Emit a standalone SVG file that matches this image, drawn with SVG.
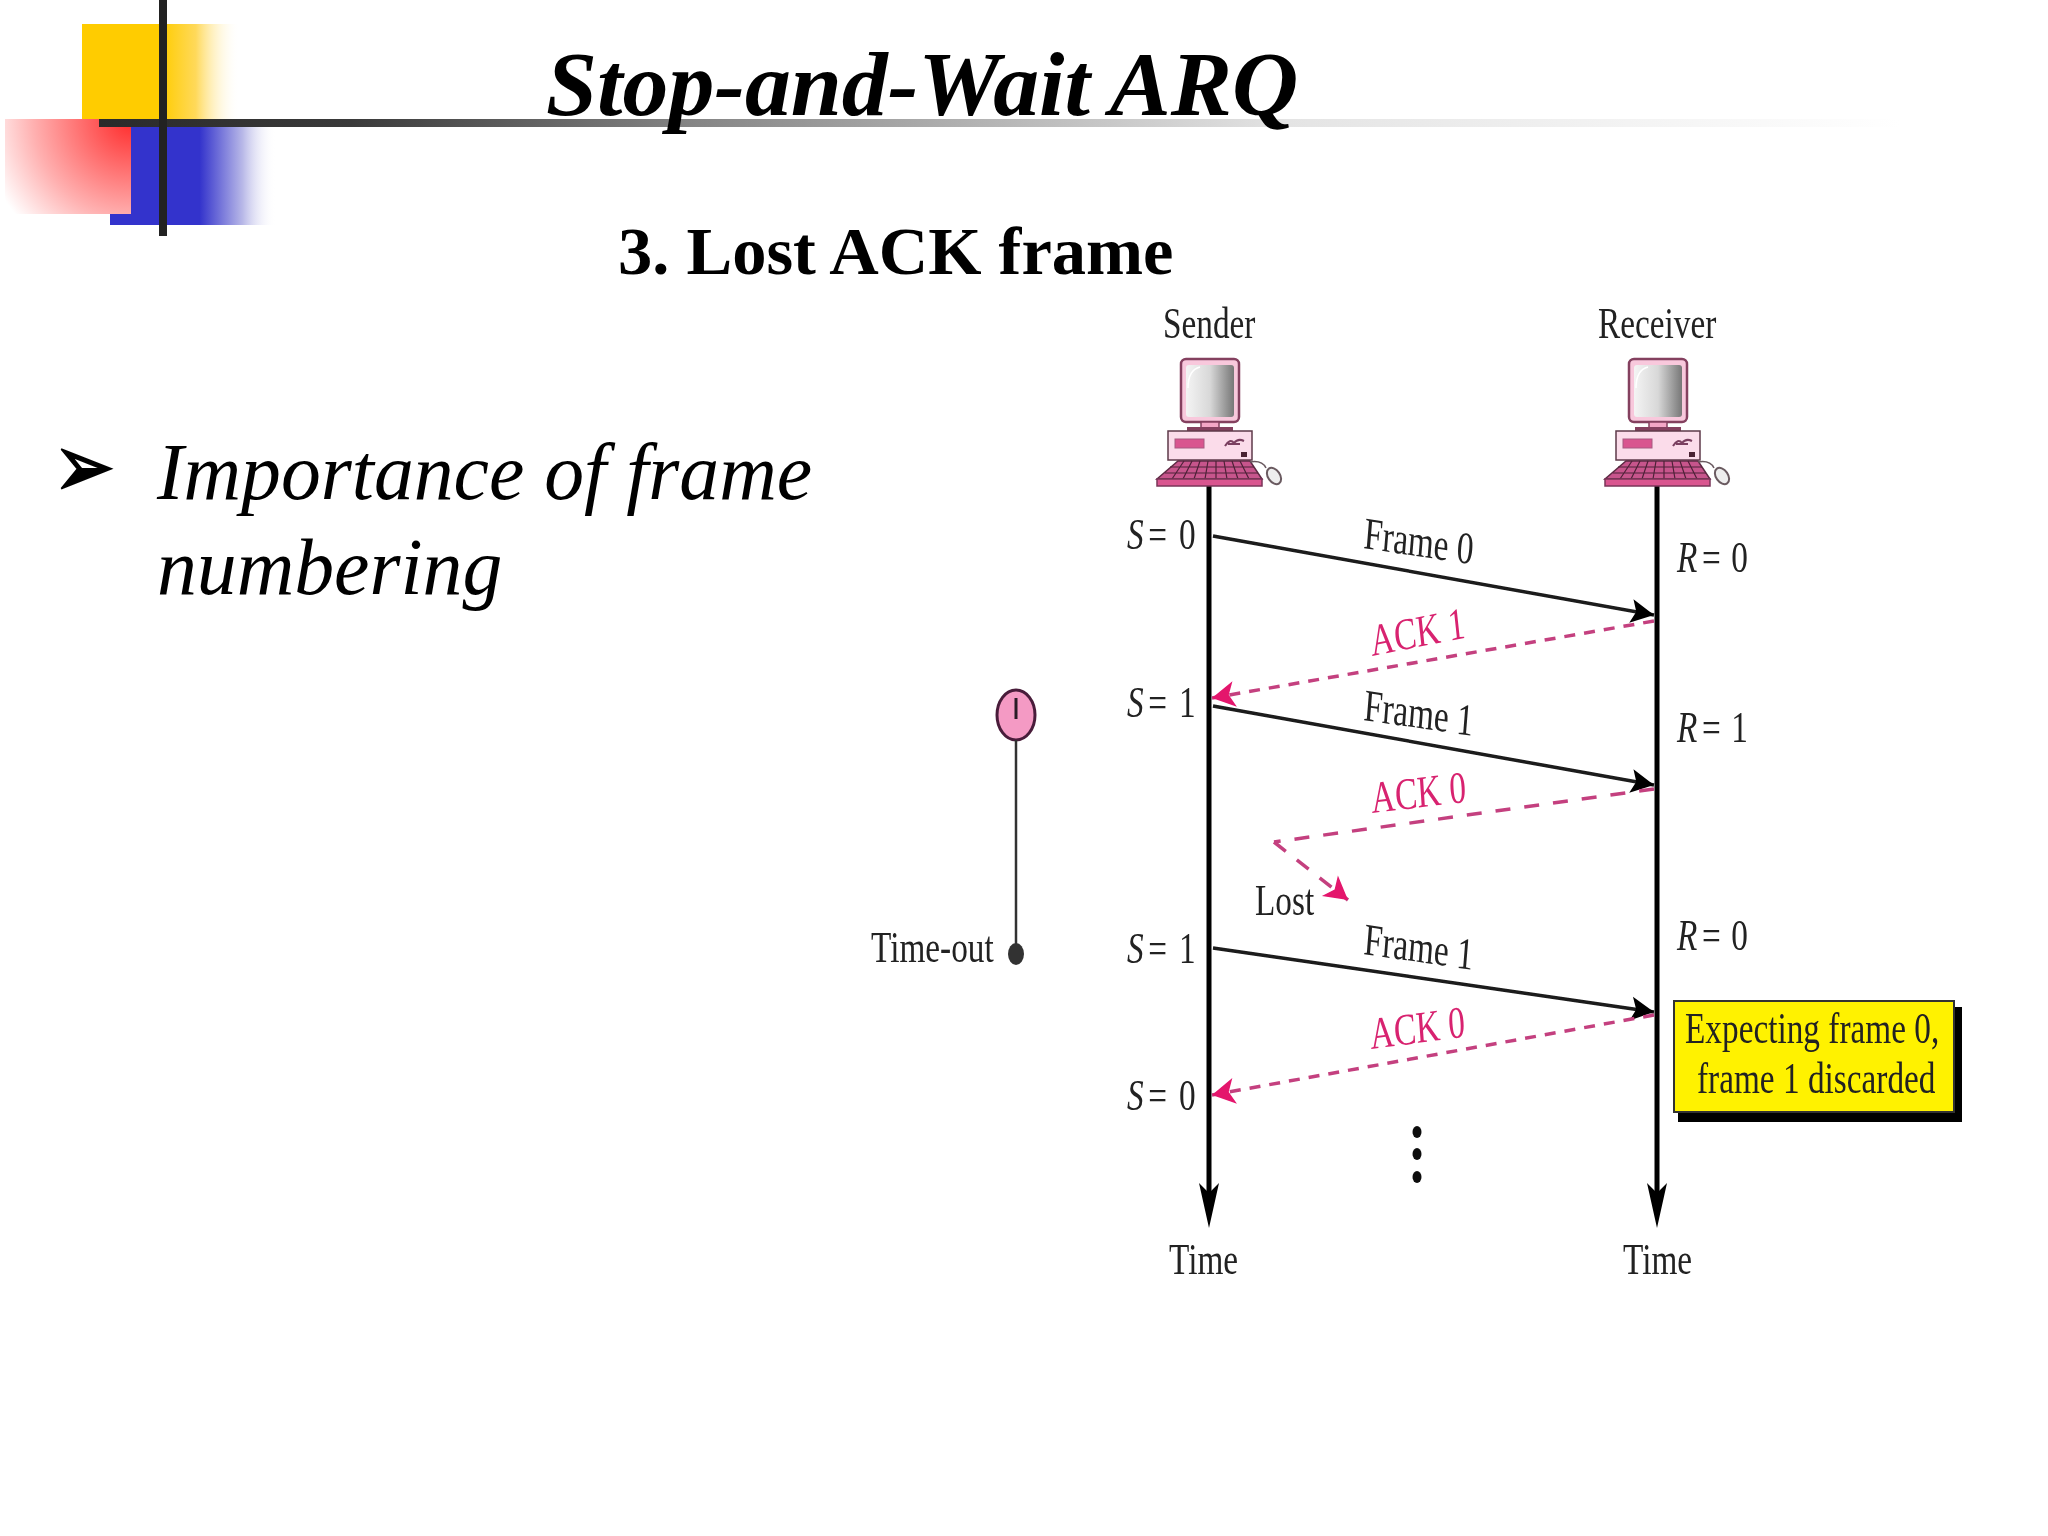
<svg xmlns="http://www.w3.org/2000/svg" xmlns:xlink="http://www.w3.org/1999/xlink" width="2048" height="1536" viewBox="0 0 2048 1536">
<style>
text{font-family:"Liberation Serif","Times New Roman",serif}
.t{font-size:45px;fill:#222}
.a{font-size:45px;fill:#d8246f}
.v{font-style:italic}
.life{stroke:#000;stroke-width:5;fill:none}
.fr{stroke:#1a1a1a;stroke-width:3.5;fill:none;marker-end:url(#ab)}
.ack{stroke:#c4417f;stroke-width:3.5;fill:none;stroke-dasharray:11 9;marker-end:url(#ap)}
.lost{stroke:#c4417f;stroke-width:3.5;fill:none;stroke-dasharray:15 14}
</style>
<defs>
<filter id="soft" x="0" y="0" width="1" height="1" filterUnits="objectBoundingBox"><feGaussianBlur stdDeviation="0.7"/></filter>
<linearGradient id="gy" gradientUnits="userSpaceOnUse" x1="82" x2="240" y1="0" y2="0"><stop offset="0" stop-color="#ffcc00"/><stop offset=".5" stop-color="#ffcc00"/><stop offset=".72" stop-color="#ffd95a"/><stop offset="1" stop-color="#fff" stop-opacity="0"/></linearGradient>
<linearGradient id="gb" gradientUnits="userSpaceOnUse" x1="110" x2="276" y1="0" y2="0"><stop offset="0" stop-color="#3333cc"/><stop offset=".54" stop-color="#3333cc"/><stop offset=".8" stop-color="#b9b9e8"/><stop offset="1" stop-color="#fff" stop-opacity="0"/></linearGradient>
<radialGradient id="gr" gradientUnits="userSpaceOnUse" cx="131" cy="119" r="150"><stop offset="0" stop-color="#ff2a2a"/><stop offset=".65" stop-color="#ffb0b0"/><stop offset="1" stop-color="#fff"/></radialGradient>
<linearGradient id="gl" gradientUnits="userSpaceOnUse" x1="99" x2="1900" y1="0" y2="0"><stop offset="0" stop-color="#2a2a2a"/><stop offset=".14" stop-color="#3a3a3a"/><stop offset=".33" stop-color="#858585"/><stop offset=".66" stop-color="#e4e4e4"/><stop offset="1" stop-color="#fff"/></linearGradient>
<linearGradient id="gs" x1="0" x2="1" y1="0" y2="0"><stop offset="0" stop-color="#f4f4f4"/><stop offset=".5" stop-color="#d8d8d8"/><stop offset="1" stop-color="#777"/></linearGradient>
<marker id="ab" markerUnits="userSpaceOnUse" markerWidth="30" markerHeight="26" viewBox="0 0 30 26" refX="28" refY="13" orient="auto"><path d="M5 1 L28 13 L5 25 L10 13 Z" fill="#000"/></marker>
<marker id="ap" markerUnits="userSpaceOnUse" markerWidth="30" markerHeight="28" viewBox="0 0 30 28" refX="28" refY="14" orient="auto"><path d="M5 1 L28 14 L5 27 L11 14 Z" fill="#e4136c"/></marker>
<g id="pc">
<rect x="1181" y="359" width="58" height="63" rx="5" fill="#f8c8dc" stroke="#84405f" stroke-width="2.5"/>
<rect x="1186" y="365" width="48" height="52" rx="3" fill="url(#gs)"/>
<path d="M1188 388 Q1188 370 1200 367" fill="none" stroke="#fff" stroke-width="1.5"/>
<rect x="1201" y="422" width="18" height="8" fill="#f3a6c6" stroke="#84405f" stroke-width="1.5"/>
<rect x="1187" y="427" width="46" height="5" fill="#84405f"/>
<rect x="1168" y="431" width="84" height="29" fill="#fbdcea" stroke="#5e3a4a" stroke-width="1.5"/>
<rect x="1175" y="439" width="29" height="9" fill="#d9558f" stroke="#a85a80"/>
<path d="M1225 446 Q1230 438 1234 443 Q1238 438 1244 441 M1228 444 L1240 444" stroke="#7a4060" stroke-width="2" fill="none"/>
<rect x="1241" y="452" width="6" height="5" fill="#4a2030"/>
<path d="M1178 461 L1250 461 L1262 479 L1157 479 Z" fill="#c7558c" stroke="#5e2a44" stroke-width="1.5"/>
<path d="M1170 467 L1254 467 M1165 473 L1258 473 M1184 461 L1172 479 M1192 461 L1183 479 M1200 461 L1194 479 M1208 461 L1205 479 M1216 461 L1216 479 M1224 461 L1227 479 M1232 461 L1238 479 M1240 461 L1249 479" stroke="#4f2238" stroke-width="1.2" fill="none"/>
<rect x="1157" y="479" width="105" height="7" fill="#d9558f" stroke="#7a3558" stroke-width="1.5"/>
<path d="M1250 462 Q1262 460 1266 468" fill="none" stroke="#6a5a60" stroke-width="1.5"/>
<ellipse cx="1274" cy="476" rx="6" ry="9" transform="rotate(-35 1274 476)" fill="#eee" stroke="#6a5a60" stroke-width="2"/>
</g>
</defs>
<g id="decoration">
<rect x="82" y="24" width="158" height="95" fill="url(#gy)"/>
<rect x="110" y="119" width="166" height="106" fill="url(#gb)"/>
<rect x="5" y="119" width="126" height="95" fill="url(#gr)"/>
<rect x="99" y="119" width="1801" height="8" fill="url(#gl)"/>
<rect x="159" y="0" width="8" height="236" fill="#222"/>
</g>
<g id="title"><text x="546" y="115" font-size="91.8" font-weight="bold" font-style="italic" fill="#000">Stop-and-Wait ARQ</text></g>
<g id="subtitle"><text x="618" y="274" font-size="68.5" font-weight="bold" fill="#000">3. Lost ACK frame</text></g>
<g id="bullet">
<text transform="translate(53,497) scale(1.19,1.45)" font-size="62" stroke="#000" stroke-width="1.2" style="font-family:'DejaVu Sans',sans-serif" fill="#000">➢</text>
<text x="157" y="499" font-size="79.7" font-style="italic" fill="#000">Importance of frame</text>
<text x="157" y="594" font-size="79.7" font-style="italic" fill="#000">numbering</text>
</g>
<g id="figure" filter="url(#soft)">
<g id="connectors">
<path class="life" d="M1209 485 V1200"/>
<path class="life" d="M1657 485 V1200"/>
<path d="M1199 1183 L1209 1228 L1219 1183 L1209 1193 Z" fill="#000"/>
<path d="M1647 1183 L1657 1228 L1667 1183 L1657 1193 Z" fill="#000"/>
<path class="fr" d="M1213 536 L1654 615"/>
<path class="ack" d="M1654 621 L1212 698"/>
<path class="fr" d="M1213 706 L1654 785"/>
<path class="lost" d="M1654 789 L1274 842"/>
<path class="lost" style="marker-end:url(#ap)" d="M1274 842 L1348 900"/>
<path class="fr" d="M1213 948 L1654 1012"/>
<path class="ack" d="M1654 1015 L1212 1095"/>
</g>
<g id="sender"><use href="#pc" xlink:href="#pc"/><text class="t" transform="translate(1163,338) scale(.74,1)">Sender</text><text class="t" transform="translate(1169,1274) scale(.74,1)">Time</text></g>
<g id="receiver"><use href="#pc" xlink:href="#pc" x="448"/><text class="t" transform="translate(1598,338) scale(.74,1)">Receiver</text><text class="t" transform="translate(1623,1274) scale(.74,1)">Time</text></g>
<g id="sender-states">
<text class="t" transform="translate(1127,549) scale(.74,1)"><tspan class="v">S</tspan><tspan dx="-5"> =</tspan><tspan dx="5"> 0</tspan></text>
<text class="t" transform="translate(1127,717) scale(.74,1)"><tspan class="v">S</tspan><tspan dx="-5"> =</tspan><tspan dx="5"> 1</tspan></text>
<text class="t" transform="translate(1127,963) scale(.74,1)"><tspan class="v">S</tspan><tspan dx="-5"> =</tspan><tspan dx="5"> 1</tspan></text>
<text class="t" transform="translate(1127,1110) scale(.74,1)"><tspan class="v">S</tspan><tspan dx="-5"> =</tspan><tspan dx="5"> 0</tspan></text>
</g>
<g id="receiver-states">
<text class="t" transform="translate(1677,572) scale(.74,1)"><tspan class="v">R</tspan><tspan dx="-5"> =</tspan><tspan dx="3"> 0</tspan></text>
<text class="t" transform="translate(1677,742) scale(.74,1)"><tspan class="v">R</tspan><tspan dx="-5"> =</tspan><tspan dx="3"> 1</tspan></text>
<text class="t" transform="translate(1677,950) scale(.74,1)"><tspan class="v">R</tspan><tspan dx="-5"> =</tspan><tspan dx="3"> 0</tspan></text>
</g>
<g id="labels">
<text class="t" transform="translate(1363,548) scale(.74,1) rotate(6.3)">Frame 0</text>
<text class="a" transform="translate(1372,656) scale(.74,1) rotate(-8.3)">ACK 1</text>
<text class="t" transform="translate(1363,720) scale(.74,1) rotate(6.1)">Frame 1</text>
<text class="a" transform="translate(1372,813) scale(.74,1) rotate(-5)">ACK 0</text>
<text class="t" transform="translate(1255,915) scale(.74,1)">Lost</text>
<text class="t" transform="translate(1363,954) scale(.74,1) rotate(6.1)">Frame 1</text>
<text class="a" transform="translate(1371,1049) scale(.74,1) rotate(-5.5)">ACK 0</text>
</g>
<g id="timer">
<ellipse cx="1016" cy="715" rx="19" ry="25" fill="#f49ac4" stroke="#4a1f3a" stroke-width="3"/>
<path d="M1016 698 V719" stroke="#2a1a25" stroke-width="3"/>
<path d="M1016 740 V945" stroke="#333" stroke-width="2.5"/>
<ellipse cx="1016" cy="954" rx="8" ry="11" fill="#333"/>
<text class="t" transform="translate(871,962) scale(.74,1)">Time-out</text>
</g>
<g id="note">
<rect x="1678" y="1007" width="284" height="115" fill="#000"/>
<rect x="1674" y="1001" width="280" height="111" fill="#fff200" stroke="#333" stroke-width="2"/>
<text class="t" transform="translate(1685,1043) scale(.74,1)">Expecting frame 0,</text>
<text class="t" transform="translate(1697,1093) scale(.74,1)">frame 1 discarded</text>
</g>
<g id="dots" fill="#111">
<ellipse cx="1417" cy="1132" rx="4.5" ry="6"/>
<ellipse cx="1417" cy="1154" rx="4.5" ry="6"/>
<ellipse cx="1417" cy="1177" rx="4.5" ry="6"/>
</g>
</g>
</svg>
